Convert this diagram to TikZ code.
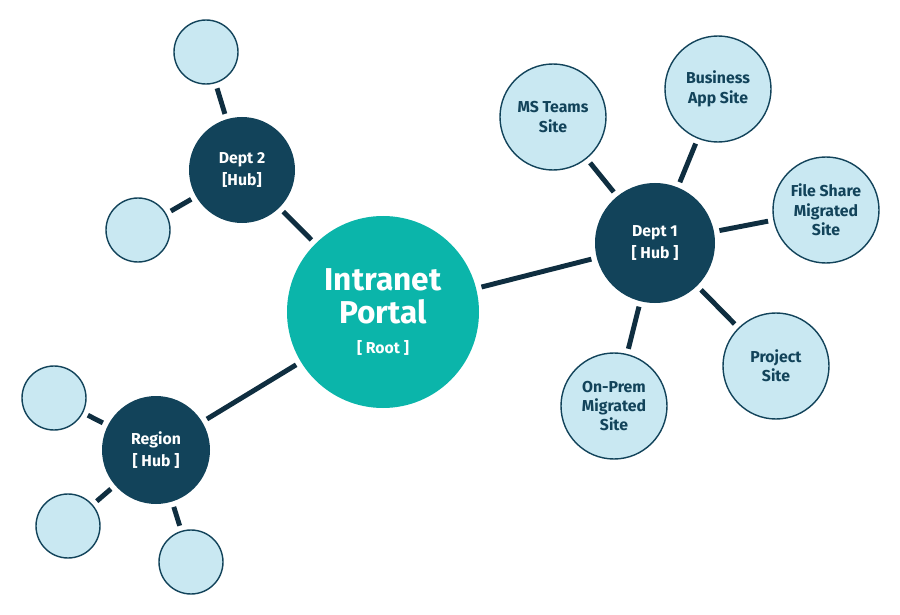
\documentclass[tikz,border=0pt]{standalone}
\usepackage{fontspec}
\setmainfont{Fira Sans}
\usetikzlibrary{shapes,positioning}
\definecolor{teal}{HTML}{0BB5AA}
\definecolor{hubblue}{HTML}{12435A}
\definecolor{leafblue}{HTML}{C9E8F2}
\definecolor{linkblue}{HTML}{0F2E40}
\tikzset{
  root/.style={circle,fill=teal,text=white,font=\bfseries,align=center,minimum size=192*0.02cm,inner sep=0pt},
  hub/.style={circle,fill=hubblue,text=white,font=\bfseries\small,align=center,inner sep=0pt},
  leaf/.style={circle,fill=leafblue,draw=hubblue,line width=0.8pt,text=hubblue,font=\bfseries\small,align=center,inner sep=0pt},
  link/.style={draw=linkblue,line width=2.8pt,shorten >=3pt,shorten <=3pt}
}
\begin{document}
\begin{tikzpicture}[x=0.02cm,y=-0.02cm]
\useasboundingbox (0,0) rectangle (900,615);

% Root
\node[root,font=\bfseries\fontsize{18}{19}\selectfont] (root) at (383,312) {Intranet\\Portal\\[-2pt]\small [ Root ]};

% Hubs
\node[hub,minimum size=120*0.02cm] (dept1) at (655,243) {Dept 1\\[2pt][ Hub ]};
\node[hub,minimum size=106*0.02cm] (dept2) at (242,170) {Dept 2\\[2pt][Hub]};
\node[hub,minimum size=108*0.02cm] (region) at (156,450) {Region\\[2pt][ Hub ]};

% Small leaves
\node[leaf,minimum size=64*0.02cm] (d2a) at (206,52) {};
\node[leaf,minimum size=64*0.02cm] (d2b) at (138,230) {};
\node[leaf,minimum size=64*0.02cm] (ra) at (54,398) {};
\node[leaf,minimum size=64*0.02cm] (rb) at (68,526) {};
\node[leaf,minimum size=64*0.02cm] (rc) at (191,562) {};

% Dept 1 sites
\node[leaf,minimum size=106*0.02cm] (teams) at (553,117) {MS Teams\\Site};
\node[leaf,minimum size=106*0.02cm] (bizapp) at (718,89) {Business\\App Site};
\node[leaf,minimum size=106*0.02cm] (fileshare) at (826,210) {File Share\\Migrated\\Site};
\node[leaf,minimum size=106*0.02cm] (project) at (776,366) {Project\\Site};
\node[leaf,minimum size=106*0.02cm] (onprem) at (614,406) {On-Prem\\Migrated\\Site};

% Links
\draw[link] (root) -- (dept1);
\draw[link] (root) -- (dept2);
\draw[link] (root) -- (region);
\draw[link] (dept2) -- (d2a);
\draw[link] (dept2) -- (d2b);
\draw[link] (region) -- (ra);
\draw[link] (region) -- (rb);
\draw[link] (region) -- (rc);
\draw[link] (dept1) -- (teams);
\draw[link] (dept1) -- (bizapp);
\draw[link] (dept1) -- (fileshare);
\draw[link] (dept1) -- (project);
\draw[link] (dept1) -- (onprem);

\end{tikzpicture}
\end{document}
